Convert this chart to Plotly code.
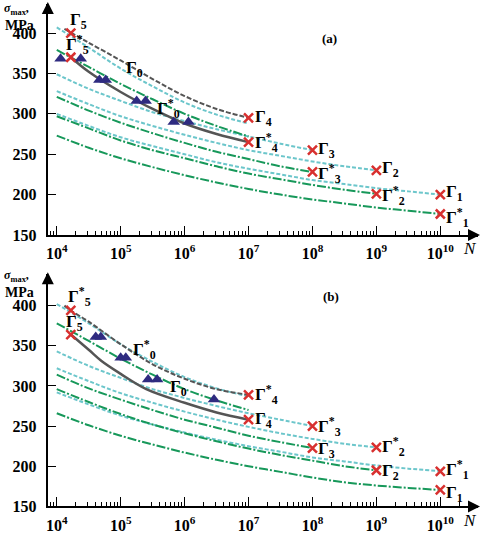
import plotly.graph_objects as go

# ---------------- DATA (log10 N, sigma_max MPa) ----------------
# Panel (a)
A_G0_logN = [4.12, 4.5, 5.0, 5.5, 6.0, 6.5, 7.0]
A_G0_sig = [405, 388, 366, 343, 322, 306, 295]
A_G0s_logN = [4.22, 4.5, 5.0, 5.5, 6.0, 6.5, 7.0]
A_G0s_sig = [370, 352, 327, 306, 288, 275, 265]

A_teal = [
    ([4, 4.5, 5, 5.5, 6, 6.5, 7], [407, 382, 356, 334, 314, 299, 288]),
    ([4, 4.5, 5, 5.5, 6, 6.5, 7, 7.5, 8], [349, 331, 316, 302, 291, 281, 272, 263, 255]),
    ([4, 4.5, 5, 5.5, 6, 6.5, 7, 7.5, 8, 8.5, 9], [328, 312, 297, 285, 274, 264, 255, 248, 241, 235, 230]),
    ([4, 4.5, 5, 5.5, 6, 6.5, 7, 7.5, 8, 8.5, 9, 9.5, 10], [300, 285, 271, 260, 250, 240, 232, 225, 218, 213, 208, 204, 200]),
]
A_green = [
    ([4, 4.5, 5, 5.5, 6, 6.5, 7], [379, 358, 337, 318, 300, 285, 272]),
    ([4, 4.5, 5, 5.5, 6, 6.5, 7, 7.5, 8], [321, 304, 289, 276, 264, 253, 244, 235, 228]),
    ([4, 4.5, 5, 5.5, 6, 6.5, 7, 7.5, 8, 8.5, 9], [297, 282, 267, 255, 245, 235, 226, 219, 212, 206, 201]),
    ([4, 4.5, 5, 5.5, 6, 6.5, 7, 7.5, 8, 8.5, 9, 9.5, 10], [273, 258, 245, 234, 224, 215, 207, 200, 194, 189, 184, 180, 176]),
]
A_cross_logN = [4.22, 4.22, 7, 7, 8, 8, 9, 9, 10, 10]
A_cross_sig = [400, 370, 295, 265, 255, 228, 230, 201, 200, 176]
A_cross_sub = ["5", "5", "4", "4", "3", "3", "2", "2", "1", "1"]
A_cross_star = [False, True, False, True, False, True, False, True, False, True]
A_tri_logN = [4.06, 4.375, 4.667, 4.766, 5.25, 5.39, 5.83, 6.06]
A_tri_sig = [368, 368, 342, 342, 316, 316, 290, 290]

# Panel (b)
B_G0s_logN = [4.12, 4.22, 4.5, 5.0, 5.5, 6.0, 6.5, 7.0]
B_G0s_sig = [400, 394, 380, 352, 327, 309, 296, 289]
B_G0_logN = [4.22, 4.5, 4.7, 5.0, 5.4, 6.0, 6.5, 7.0]
B_G0_sig = [364, 345, 331, 315, 296, 279, 267, 258]

B_teal = [
    ([4, 4.5, 5, 5.5, 6, 6.5, 7], [402, 378, 352, 330, 311, 297, 287]),
    ([4, 4.5, 5, 5.5, 6, 6.5, 7, 7.5, 8], [343, 325, 310, 296, 285, 275, 266, 258, 250]),
    ([4, 4.5, 5, 5.5, 6, 6.5, 7, 7.5, 8, 8.5, 9], [322, 306, 291, 279, 268, 258, 249, 241, 234, 228, 223.5]),
    ([4, 4.5, 5, 5.5, 6, 6.5, 7, 7.5, 8, 8.5, 9, 9.5, 10], [292, 277, 263, 252, 242, 233, 225, 218, 211, 206, 201, 197, 194]),
]
B_green = [
    ([4, 4.5, 5, 5.5, 6, 6.5, 7], [378, 356, 334, 314, 296, 282, 270]),
    ([4, 4.5, 5, 5.5, 6, 6.5, 7, 7.5, 8], [314, 297, 283, 270, 258, 248, 238, 230, 222.7]),
    ([4, 4.5, 5, 5.5, 6, 6.5, 7, 7.5, 8, 8.5, 9], [296, 280, 265, 252, 241, 231, 222, 214, 207, 200, 195]),
    ([4, 4.5, 5, 5.5, 6, 6.5, 7, 7.5, 8, 8.5, 9, 9.5, 10], [266, 251, 238, 227, 217, 208, 200, 193, 186, 180, 176, 173, 170.5]),
]
B_cross_logN = [4.22, 4.22, 7, 7, 8, 8, 9, 9, 10, 10]
B_cross_sig = [394, 364, 289, 258, 250, 222.7, 223.5, 195, 193.7, 170.5]
B_cross_sub = ["5", "5", "4", "4", "3", "3", "2", "2", "1", "1"]
B_cross_star = [True, False, True, False, True, False, True, False, True, False]
B_tri_logN = [4.61, 4.69, 5.0, 5.08, 5.43, 5.57, 6.46]
B_tri_sig = [361, 361, 335, 335, 308, 308, 283]

X_TICK_EXP = [4, 5, 6, 7, 8, 9, 10]
Y_TICKS = [150, 200, 250, 300, 350, 400]

# ---------------- STYLE ----------------
TEAL = "#6cc6cb"
GREEN = "#17985a"
GRAY = "#555555"
RED = "#d8302f"
NAVY = "#2e2b80"
FONT = "Liberation Serif"

fig = go.Figure()


def p(lst):
    return [10 ** v for v in lst]


def panel(xa, ya, teal, green, g_dash, g_solid, cross, tri):
    for lx, sy in teal:
        fig.add_trace(go.Scatter(x=p(lx), y=sy, mode="lines", xaxis=xa, yaxis=ya,
                                 line=dict(color=TEAL, width=2, dash="4px,2px", shape="spline")))
    for lx, sy in green:
        fig.add_trace(go.Scatter(x=p(lx), y=sy, mode="lines", xaxis=xa, yaxis=ya,
                                 line=dict(color=GREEN, width=2, dash="9px,2px,2px,2px", shape="spline")))
    fig.add_trace(go.Scatter(x=p(g_dash[0]), y=g_dash[1], mode="lines", xaxis=xa, yaxis=ya,
                             line=dict(color=GRAY, width=2, dash="5px,2px", shape="spline")))
    fig.add_trace(go.Scatter(x=p(g_solid[0]), y=g_solid[1], mode="lines", xaxis=xa, yaxis=ya,
                             line=dict(color=GRAY, width=2.5, shape="spline")))
    fig.add_trace(go.Scatter(x=p(tri[0]), y=tri[1], mode="markers", xaxis=xa, yaxis=ya,
                             marker=dict(symbol="triangle-up", size=11, color=NAVY)))
    fig.add_trace(go.Scatter(x=p(cross[0]), y=cross[1], mode="markers", xaxis=xa, yaxis=ya,
                             marker=dict(symbol="x-thin", size=9, line=dict(color=RED, width=2.5))))


panel("x", "y", A_teal, A_green, (A_G0_logN, A_G0_sig), (A_G0s_logN, A_G0s_sig),
      (A_cross_logN, A_cross_sig), (A_tri_logN, A_tri_sig))
panel("x2", "y2", B_teal, B_green, (B_G0s_logN, B_G0s_sig), (B_G0_logN, B_G0_sig),
      (B_cross_logN, B_cross_sig), (B_tri_logN, B_tri_sig))

W, H = 484, 538
XR = [3.86, 10.59]
xdom = [46 / W, 478 / W]


def xaxis_cfg(anchor):
    return dict(type="log", range=XR, domain=xdom, anchor=anchor,
                showline=True, linewidth=2, linecolor="black", showgrid=False, zeroline=False,
                tickvals=[10 ** e for e in X_TICK_EXP],
                ticktext=[f"10<sup>{e}</sup>" for e in X_TICK_EXP],
                ticks="inside", ticklen=9, tickwidth=1.3, tickcolor="black",
                minor=dict(ticks="inside", ticklen=4, tickwidth=1, tickcolor="black", dtick="D1", showgrid=False),
                tickfont=dict(family=FONT, size=16, color="black", weight="bold"),
                ticklabelstandoff=3)


def yaxis_cfg(anchor, dom, rng):
    return dict(range=rng, domain=dom, anchor=anchor,
                showline=True, linewidth=2, linecolor="black", showgrid=False, zeroline=False,
                tickvals=Y_TICKS, ticks="inside", ticklen=8, tickwidth=1.3, tickcolor="black",
                tickfont=dict(family=FONT, size=16, color="black", weight="bold"),
                ticklabelstandoff=6)


fig.update_layout(
    width=W, height=H, margin=dict(l=0, r=0, t=0, b=0),
    paper_bgcolor="white", plot_bgcolor="white", showlegend=False,
    xaxis=xaxis_cfg("y"),
    yaxis=yaxis_cfg("x", [(H - 239) / H, (H - 4) / H], [150, 436]),
    xaxis2=xaxis_cfg("y2"),
    yaxis2=yaxis_cfg("x2", [(H - 515) / H, (H - 279) / H], [150, 439]),
)

ann = []
lab_font = dict(family=FONT, size=17, color="black", weight="bold")


def add_gamma(xa, ya, lx, y, sub, star, dx, dy):
    # annotations on a log axis take log10 coordinates
    txt = f"Γ<sup>*</sup><sub>{sub}</sub>" if star else f"Γ<sub>{sub}</sub>"
    ann.append(dict(x=lx, y=y, xref=xa, yref=ya, text=txt, showarrow=False, borderpad=0,
                    xanchor="left", yanchor="middle", xshift=dx, yshift=dy, font=lab_font))


A_offs = [(-2, 12), (-6, 13), (5, 0), (5, 0), (5, 0), (5, -2), (5, 1), (5, -2), (5, 2), (5, -4)]
B_offs = [(-4, 14), (-6, 12), (5, 0), (5, 0), (5, 0), (5, -2), (5, 1), (5, -2), (5, 2), (5, -4)]
for l, s, sb, st, (dx, dy) in zip(A_cross_logN, A_cross_sig, A_cross_sub, A_cross_star, A_offs):
    add_gamma("x", "y", l, s, sb, st, dx, dy)
for l, s, sb, st, (dx, dy) in zip(B_cross_logN, B_cross_sig, B_cross_sub, B_cross_star, B_offs):
    add_gamma("x2", "y2", l, s, sb, st, dx, dy)

add_gamma("x", "y", 5.07, 356, "0", False, 0, 0)
add_gamma("x", "y", 5.55, 307, "0", True, 0, 0)
add_gamma("x2", "y2", 5.18, 345, "0", True, 0, 0)
add_gamma("x2", "y2", 5.75, 297, "0", False, 0, 0)

# panel tags
ann.append(dict(x=338 / W, y=1 - 30 / H, xref="paper", yref="paper", text="(a)", showarrow=False,
                font=dict(family=FONT, size=13, color="black", weight="bold")))
ann.append(dict(x=340 / W, y=1 - 302 / H, xref="paper", yref="paper", text="(b)", showarrow=False,
                font=dict(family=FONT, size=13, color="black", weight="bold")))

# axis titles
for ytop in (0, 272):
    ann.append(dict(x=1 / W, y=1 - ytop / H, xref="paper", yref="paper", borderpad=0,
                    text="<i>σ</i><sub>max</sub>,", showarrow=False, xanchor="left", yanchor="top",
                    font=dict(family=FONT, size=12, color="black", weight="bold")))
    ann.append(dict(x=2 / W, y=1 - (ytop + 17) / H, xref="paper", yref="paper", borderpad=0,
                    text="MPa", showarrow=False, xanchor="left", yanchor="top",
                    font=dict(family=FONT, size=14, color="black", weight="bold")))
for yax in (253, 529):
    ann.append(dict(x=470 / W, y=1 - yax / H, xref="paper", yref="paper",
                    text="<i>N</i>", showarrow=False, xanchor="center", yanchor="middle",
                    font=dict(family=FONT, size=17, color="black")))

# arrow heads on axes
for yb, ytop in ((239, 4), (515, 279)):
    ann.append(dict(x=480 / W, y=1 - yb / H, xref="paper", yref="paper", ax=-12, ay=0, text="",
                    showarrow=True, arrowhead=2, arrowsize=1.2, arrowwidth=2, arrowcolor="black"))
    ann.append(dict(x=46 / W, y=1 - (ytop - 2) / H, xref="paper", yref="paper", ax=0, ay=12, text="",
                    showarrow=True, arrowhead=2, arrowsize=1.2, arrowwidth=2, arrowcolor="black"))

fig.update_layout(annotations=ann)
fig.write_html("out.html")
